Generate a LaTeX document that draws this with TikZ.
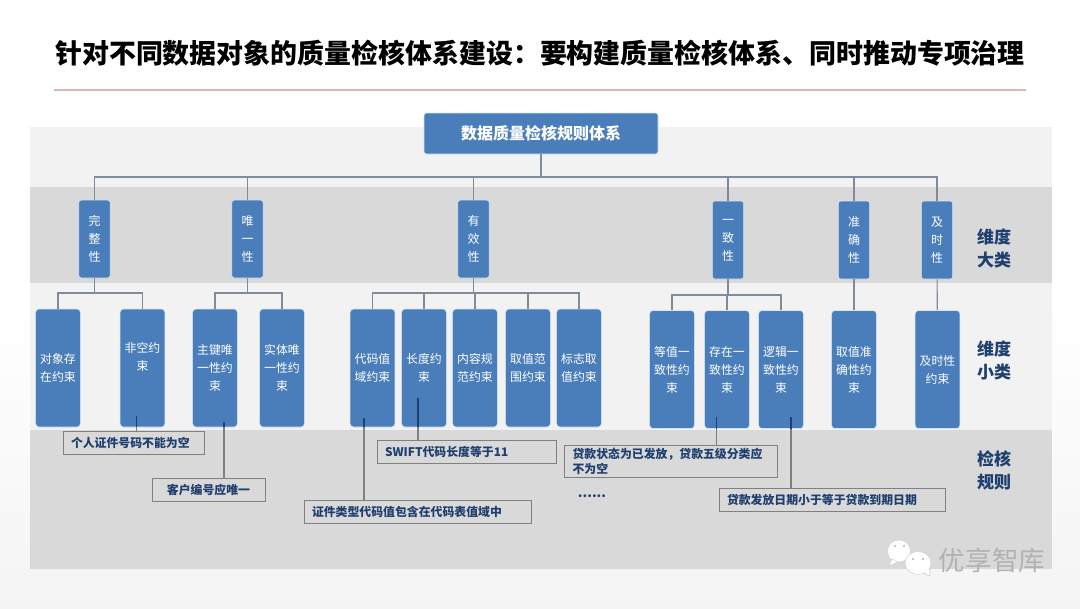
\documentclass[tikz,border=0pt]{standalone}
\usepackage{fontspec}
\setmainfont{Noto Sans CJK SC}
\definecolor{pagegray}{HTML}{F4F4F4}
\definecolor{bandlight}{HTML}{F2F2F3}
\definecolor{banddark}{HTML}{D9D9D9}
\definecolor{boxblue}{HTML}{4A7EBB}
\definecolor{boxedge}{HTML}{D2E4F4}
\definecolor{linkgray}{HTML}{7F8B9C}
\definecolor{navy}{HTML}{1F3F6E}
\definecolor{rulered}{HTML}{D9B9B6}
\begin{document}
\begin{tikzpicture}[
    x=0.75pt, y=-0.75pt,
    link/.style={draw=linkgray, line width=0.8pt},
    leader/.style={draw=gray, line width=0.8pt},
    leaderin/.style={draw=navy, line width=0.8pt},
    band/.style={rectangle, draw=none, minimum width=766.5pt, anchor=north west, inner sep=0pt},
    rootbox/.style={rectangle, draw=boxedge, fill=boxblue, rounded corners=2pt, text=white, minimum width=175.5pt, minimum height=30.75pt, font=\fontsize{12}{14}\selectfont\bfseries},
    catbox/.style={rectangle, draw=boxedge, fill=boxblue, rounded corners=2pt, text=white, align=center, minimum width=23.5pt, minimum height=58.5pt, inner sep=0pt, font=\fontsize{9}{13.5}\selectfont},
    subbox/.style={rectangle, draw=boxedge, fill=boxblue, rounded corners=2.5pt, text=white, align=center, minimum width=33.5pt, minimum height=88.5pt, inner sep=0pt, font=\fontsize{8.9}{13.5}\selectfont},
    rulebox/.style={rectangle, draw=gray, line width=0.7pt, text=navy, text width=#1, align=left, inner xsep=6pt, inner ysep=2pt, minimum height=17.25pt, font=\fontsize{8.9}{11.25}\selectfont\bfseries},
    sidelabel/.style={text=navy, align=center, font=\fontsize{12.75}{17.25}\selectfont\bfseries},
    wxbubble/.style={fill=white, draw=gray!35, line width=0.4pt},
    wxeye/.style={fill=gray!60}
]

% Page
\useasboundingbox (0,0) rectangle (1080,608);
\shade[top color=white, bottom color=pagegray, middle color=white] (0,0) rectangle (1080,608);

% Title
\node[font=\fontsize{20.2}{24}\selectfont\bfseries] (title) at (540,53) {针对不同数据对象的质量检核体系建设：要构建质量检核体系、同时推动专项治理};
\coordinate (ruleL) at (54,90);
\coordinate (ruleR) at (1026,90);
\draw[rulered, line width=1pt] (ruleL) -- (ruleR);

% Bands
\node[band, fill=bandlight, minimum height=45pt] (band1) at (30,127) {};
\node[band, fill=banddark, minimum height=72pt] (band2) at (30,187) {};
\node[band, fill=bandlight, minimum height=110.25pt] (band3) at (30,283) {};
\node[band, fill=banddark, minimum height=104.25pt] (band4) at (30,430) {};

% Root
\node[rootbox] (root) at (541,133.5) {数据质量检核规则体系};

% Dimension classes
\node[catbox] (c1) at (94.5,239) {完\\整\\性};
\node[catbox] (c2) at (247.5,239) {唯\\一\\性};
\node[catbox] (c3) at (473.5,239) {有\\效\\性};
\node[catbox] (c4) at (728,240) {一\\致\\性};
\node[catbox] (c5) at (854,240) {准\\确\\性};
\node[catbox] (c6) at (937,240) {及\\时\\性};

% Dimension subclasses
\node[subbox] (s11) at (58,368) {对象存\\在约束};
\node[subbox] (s12) at (142.5,368) {非空约\\束\\\strut};
\node[subbox] (s21) at (215,368) {主键唯\\一性约\\束};
\node[subbox] (s22) at (282,368) {实体唯\\一性约\\束};
\node[subbox] (s31) at (372.5,368) {代码值\\域约束};
\node[subbox] (s32) at (424,368) {长度约\\束};
\node[subbox] (s33) at (475,368) {内容规\\范约束};
\node[subbox] (s34) at (528,368) {取值范\\围约束};
\node[subbox] (s35) at (579,368) {标志取\\值约束};
\node[subbox] (s41) at (672,369.5) {等值一\\致性约\\束};
\node[subbox] (s42) at (727,369.5) {存在一\\致性约\\束};
\node[subbox] (s43) at (781,369.5) {逻辑一\\致性约\\束};
\node[subbox] (s51) at (854,369.5) {取值准\\确性约\\束};
\node[subbox] (s61) at (937.5,369.5) {及时性\\约束};

% Rules
\node[rulebox=93.75pt] (r1) at (133.5,442.5) {个人证件号码不能为空};
\node[rulebox=72.75pt, align=center] (r2) at (208.5,489.5) {客户编号应唯一};
\node[rulebox=158.25pt] (r3) at (417.5,511.5) {证件类型代码值包含在代码表值域中};
\node[rulebox=122.6pt] (r4) at (466.75,452) {SWIFT代码长度等于11};
\node[rulebox=148pt] (r5) at (671.25,461.5) {贷款状态为已发放，贷款五级分类应\\不为空};
\node[rulebox=157.5pt] (r6) at (832,499.5) {贷款发放日期小于等于贷款到期日期};
\node[text=navy, font=\fontsize{10}{11}\selectfont\bfseries] (dots) at (592,496) {......};

% Side labels
\node[sidelabel] (side1) at (994,248) {维度\\大类};
\node[sidelabel] (side2) at (994,360) {维度\\小类};
\node[sidelabel] (side3) at (994,470) {检核\\规则};

% Root to classes
\coordinate (bus) at (541,177);
\draw[link] (root) -- (bus);
\foreach \c in {c1,c2,c3,c4,c5,c6} {
    \draw[link] (bus) -| (\c.north);
}

% Classes to subclasses
\coordinate (bus1) at (94.5,293);
\draw[link] (c1) -- (bus1);
\draw[link] (bus1) -| (s11.north);
\draw[link] (bus1) -| (s12.north);

\coordinate (bus2) at (247.5,293);
\draw[link] (c2) -- (bus2);
\draw[link] (bus2) -| (s21.north);
\draw[link] (bus2) -| (s22.north);

\coordinate (bus3) at (473.5,293);
\draw[link] (c3) -- (bus3);
\foreach \s in {s31,s32,s33,s34,s35} {
    \draw[link] (bus3) -| (\s.north);
}

\coordinate (bus4) at (728,295);
\draw[link] (c4) -- (bus4);
\foreach \s in {s41,s42,s43} {
    \draw[link] (bus4) -| (\s.north);
}

\draw[link] (c5) -- (s51);
\draw[link] (c6) -- (s61);

% Leaders to rules
\coordinate (k1) at (136.7,416);
\coordinate (k2) at (224,422);
\coordinate (k3) at (364,418);
\coordinate (k4) at (418,398);
\coordinate (k5) at (716.6,417);
\coordinate (k6) at (791,417);
\draw[leaderin] (k1) -- (k1 |- s12.south);
\draw[leader] (k1 |- s12.south) -- (k1 |- r1.north);
\draw[leaderin] (k2) -- (k2 |- s21.south);
\draw[leader] (k2 |- s21.south) -- (k2 |- r2.north);
\draw[leaderin] (k3) -- (k3 |- s31.south);
\draw[leader] (k3 |- s31.south) -- (k3 |- r3.north);
\draw[leaderin] (k4) -- (k4 |- s32.south);
\draw[leader] (k4 |- s32.south) -- (k4 |- r4.north);
\draw[leaderin] (k5) -- (k5 |- s42.south);
\draw[leader] (k5 |- s42.south) -- (k5 |- r5.north);
\draw[leaderin] (k6) -- (k6 |- s43.south);
\draw[leader] (k6 |- s43.south) -- (k6 |- r6.north);

% Watermark
\draw[wxbubble] (899,551) ellipse [x radius=11.5, y radius=11];
\draw[wxbubble] (892,559) -- (889,566) -- (898,562) -- cycle;
\fill[white] (892,556) circle (3);
\fill[wxeye] (895,546) circle (1.1);
\fill[wxeye] (904,546) circle (1.1);
\draw[wxbubble] (918,563) ellipse [x radius=13, y radius=11.5];
\fill[white] (923,570) -- (930,576) -- (928,566) -- cycle;
\draw[gray!35, line width=0.4pt] (923,573.5) -- (930,576) -- (930,568);
\fill[wxeye] (913,559) circle (1.1);
\fill[wxeye] (923,559) circle (1.1);
\node[text=black!30, font=\fontsize{19.9}{22}\selectfont] (mark) at (992,560) {优享智库};

\end{tikzpicture}
\end{document}
